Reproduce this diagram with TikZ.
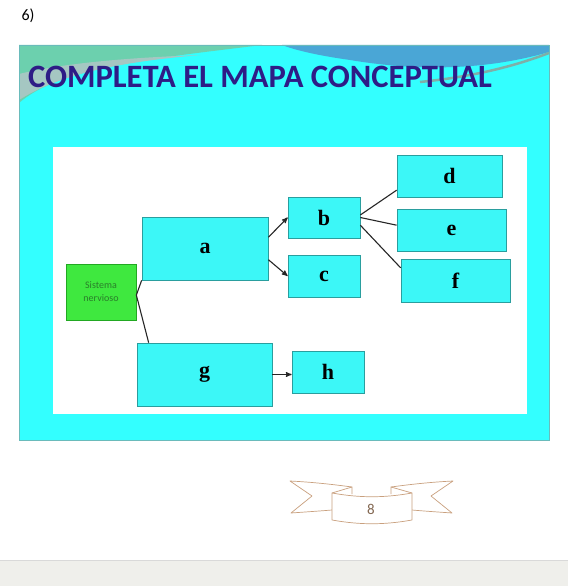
\documentclass[tikz,border=0pt]{standalone}
\usepackage{fontspec}
\setmainfont{Liberation Serif}
\setsansfont{Carlito}
\usetikzlibrary{arrows, positioning}
\definecolor{slidecyan}{HTML}{33FFFF}
\definecolor{boxcyan}{HTML}{3CF7F7}
\definecolor{boxedge}{HTML}{2A9E9E}
\definecolor{wavegreen}{HTML}{6CD0AE}
\definecolor{waveblue}{HTML}{4AA6D6}
\definecolor{wavegray}{HTML}{7FAFA8}
\definecolor{titleblue}{HTML}{2E1C86}
\definecolor{nervegreen}{HTML}{3FE83F}
\definecolor{nerveedge}{HTML}{22A822}
\definecolor{nervetext}{HTML}{2A7E2A}
\definecolor{ribbon}{HTML}{C9A07E}
\definecolor{pagegray}{HTML}{EFEFEB}

\begin{document}
\begin{tikzpicture}[x=1pt, y=-1pt, >=stealth', line width=0.8pt,
	concept/.style={draw=boxedge, fill=boxcyan, line width=0.7pt, font=\fontsize{22}{24}\selectfont\bfseries},
	link/.style={draw=black!85, line width=1.1pt}]
	\useasboundingbox (0, 0) rectangle (568, 586);
	% page and slide
	\fill[white] (0, 0) rectangle (568, 586);
	\fill[pagegray] (0, 560) rectangle (568, 586);
	\draw[black!15] (0, 560) -- (568, 560);
	\node[font=\sffamily\fontsize{16}{18}\selectfont] at (28, 16) (num) {6)};
	\fill[slidecyan] (19, 45) rectangle (549, 440);
	\fill[wavegreen] (19, 45) -- (262, 45) .. controls (190, 54) and (110, 62) .. (60, 80) .. controls (40, 88) and (28, 95) .. (19, 103) -- cycle;
	\fill[wavegray!70] (19, 74) .. controls (60, 64) and (120, 58) .. (200, 55) .. controls (120, 62) and (60, 74) .. (19, 100) -- cycle;
	\fill[waveblue] (282, 45) -- (549, 45) -- (549, 52) .. controls (480, 72) and (410, 70) .. (350, 60) .. controls (315, 55) and (295, 50) .. (282, 45);
	\draw[wavegray, line width=2.5pt] (420, 82) .. controls (480, 76) and (520, 64) .. (549, 53);
	\draw[boxedge!70, line width=0.6pt] (19, 45) rectangle (549, 440);
	\node[font=\sffamily\bfseries\fontsize{32.6}{36}\selectfont, text=titleblue] at (260, 77) (title) {COMPLETA EL MAPA CONCEPTUAL};
	\fill[white] (53, 147) rectangle (527, 414);
	% concept map
	\node[draw=nerveedge, fill=nervegreen, line width=0.7pt, minimum width=70pt, minimum height=56pt, align=center, font=\sffamily\fontsize{10}{13}\selectfont, text=nervetext] at (101, 292) (sn) {Sistema\\nervioso};
	\node[concept, minimum width=126pt, minimum height=63pt] at (205, 248.5) (a) {a};
	\node[concept, minimum width=72pt, minimum height=41pt] at (324, 217.5) (b) {b};
	\node[concept, minimum width=72pt, minimum height=42pt] at (324, 276) (c) {c};
	\node[concept, minimum width=105pt, minimum height=42pt] at (449.5, 176) (d) {d};
	\node[concept, minimum width=109pt, minimum height=42pt] at (451.5, 230) (e) {e};
	\node[concept, minimum width=109pt, minimum height=43pt] at (455.5, 280.5) (f) {f};
	\node[concept, minimum width=135pt, minimum height=63pt] at (204.5, 374.5) (g) {g};
	\node[concept, minimum width=72pt, minimum height=42pt] at (328, 372) (h) {h};
	\draw[link] (sn.-5) -- (a.south west);
	\draw[link] (sn.-5) -- ([xshift=12pt]g.north west);
	\draw[link, ->] (a.10) -- (b.west);
	\draw[link, ->] (a.-10) -- (c.west);
	\draw[link] (b.4) -- (d.195);
	\draw[link] (b.east) -- (e.175);
	\draw[link] (b.-12) -- (f.167);
	\draw[link, ->] (g.east) -- (g.east -| h.west);
	% page ribbon
	\begin{scope}[draw=ribbon, line width=0.7pt, line join=round]
		\draw[fill=white] (352, 487) .. controls (330, 484) and (310, 482) .. (290, 481) -- (312, 496) -- (291, 513) .. controls (305, 512) and (320, 511) .. (332, 510);
		\draw[fill=white] (391, 487) .. controls (413, 484) and (433, 482) .. (453, 481) -- (431, 496) -- (452, 513) .. controls (438, 512) and (423, 511) .. (412, 510);
		\draw[fill=white] (332, 493) -- (352, 487) -- (352, 494);
		\draw[fill=white] (412, 493) -- (391, 487) -- (391, 494);
		\draw[fill=white] (332, 493) .. controls (360, 498) and (384, 498) .. (412, 493) -- (412, 520) .. controls (384, 525) and (360, 525) .. (332, 520) -- cycle;
	\end{scope}
	\node[font=\sffamily\fontsize{15}{17}\selectfont, text=ribbon!65!black] at (371, 509) (page) {8};
\end{tikzpicture}
\end{document}
